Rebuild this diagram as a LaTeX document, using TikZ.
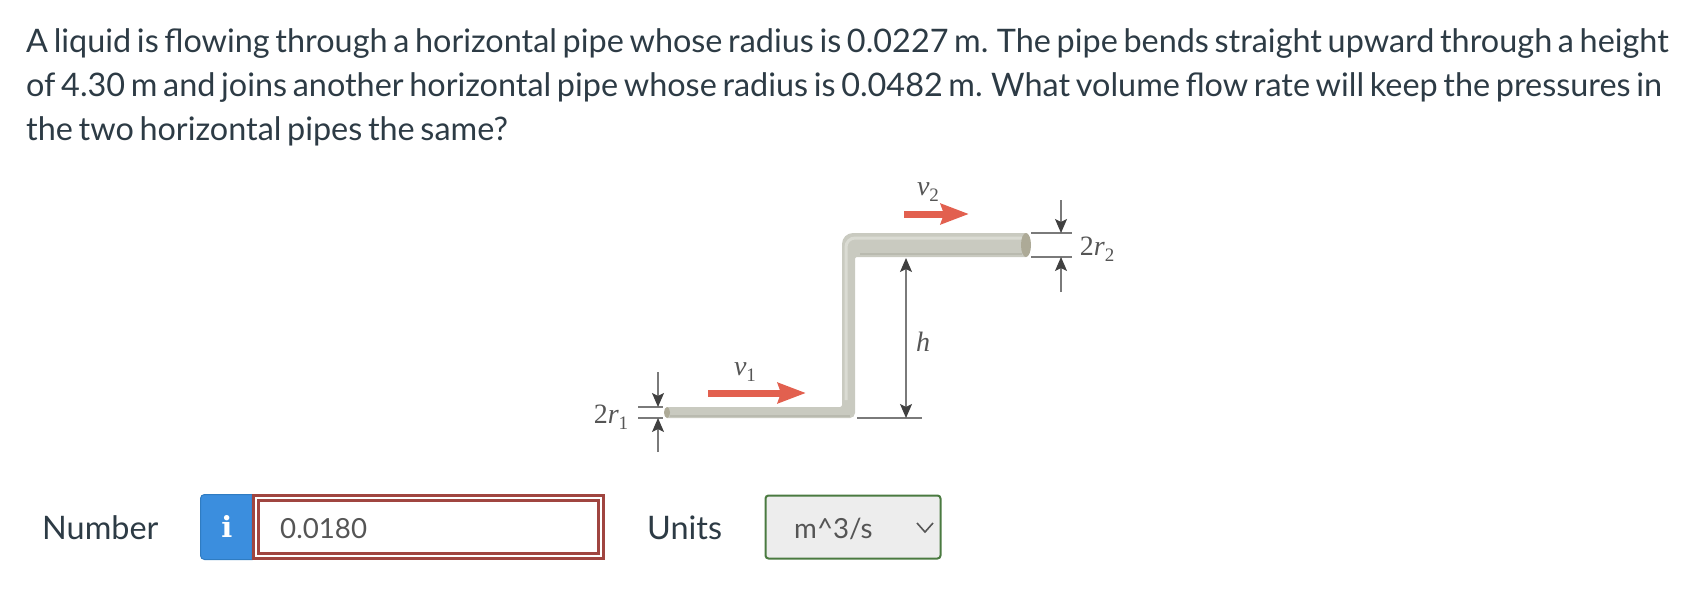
\documentclass[tikz,border=0pt]{standalone}
\usepackage{fontspec}
\usepackage{xcolor}
\setmainfont{Lato}[WordSpace=0.68]
\newfontfamily\labelfont{Liberation Serif}
\newfontfamily\iconfont{DejaVu Serif}
\usetikzlibrary{arrows.meta,positioning}
\definecolor{inktext}{HTML}{2D3B45}
\definecolor{fieldtext}{HTML}{555555}
\definecolor{infoblue}{HTML}{3B8EDE}
\definecolor{infoedge}{HTML}{2F7CC2}
\definecolor{errorred}{HTML}{A04540}
\definecolor{selectgreen}{HTML}{4A7A40}
\definecolor{selectfill}{HTML}{EDEDED}
\definecolor{pipefill}{HTML}{C9CAC0}
\definecolor{pipelight}{HTML}{DADBD3}
\definecolor{pipedark}{HTML}{B9BAAF}
\definecolor{pipeend}{HTML}{ADAA97}
\definecolor{flowred}{HTML}{E2604F}
\definecolor{dimgray}{HTML}{7A7A7A}
\definecolor{labelgray}{HTML}{555555}
\tikzstyle{qline} = [anchor=base west, inner sep=0pt, text=inktext, font=\fontsize{32.4}{36}\selectfont]
\tikzstyle{fieldlabel} = [anchor=base west, inner sep=0pt, text=fieldtext, font=\fontsize{27.7}{33}\selectfont]
\tikzstyle{pipelabel} = [inner sep=0pt, text=labelgray, font=\labelfont\fontsize{28}{30}\selectfont]
\tikzstyle{extline} = [draw=dimgray, line width=1.2pt]
\tikzstyle{dimarrow} = [draw=dimgray, line width=1.3pt, -{Stealth[length=14pt,width=12pt,inset=3pt,black!75]}]
\tikzstyle{dimboth} = [draw=dimgray, line width=1.3pt, {Stealth[length=14pt,width=12pt,inset=3pt,black!75]}-{Stealth[length=14pt,width=12pt,inset=3pt,black!75]}]
\tikzstyle{flowarrow} = [draw=flowred, line width=7pt, -{Stealth[length=28pt,width=20pt,inset=3pt]}]
\newcommand{\subbed}[2]{#1\raisebox{-6pt}{\fontsize{19}{21}\selectfont #2}}

\begin{document}
\begin{tikzpicture}[x=1pt, y=-1pt]
	\useasboundingbox (0,0) rectangle (1708,610);

	\node (line1) [qline] at (26,53) {A liquid is flowing through a horizontal pipe whose radius is 0.0227 m. The pipe bends straight upward through a height};
	\node (line2) [qline] at (26,96.5) {of 4.30 m and joins another horizontal pipe whose radius is 0.0482 m. What volume flow rate will keep the pressures in};
	\node (line3) [qline] at (26,140.5) {the two horizontal pipes the same?};

	% pipe
	\fill [pipefill] (667,407) [rounded corners=2pt] -- (842,407) [rounded corners=11pt] -- (842,233) [sharp corners] -- (1026,233) -- (1026,257) [rounded corners=2pt] -- (855,257) [rounded corners=5pt] -- (855,418) [sharp corners] -- (667,418) -- cycle;
	\draw [pipelight, line width=3pt, rounded corners=9pt] (1022,238) -- (846,238) -- (846,400);
	\draw [pipedark, line width=2pt] (860,254) -- (1022,254);
	\draw [pipedark, line width=1.5pt] (670,416) -- (850,416);
	\fill [pipeend] (667,412.5) ellipse [x radius=3, y radius=5.5];
	\fill [pipeend] (1026,245) ellipse [x radius=5, y radius=12];

	% flow arrows
	\coordinate (v1start) at (708,393);
	\coordinate (v1end) at (806,393);
	\coordinate (v2start) at (904,214);
	\coordinate (v2end) at (969,214);
	\draw [flowarrow] (v1start) -- (v1end);
	\draw [flowarrow] (v2start) -- (v2end);
	\node (v1) [pipelabel] at (745,372) {\subbed{\textit{v}}{1}};
	\node (v2) [pipelabel] at (928,192) {\subbed{\textit{v}}{2}};

	% height
	\coordinate (htop) at (906,258);
	\coordinate (hbot) at (906,418);
	\coordinate (hbase1) at (857,418);
	\coordinate (hbase2) at (922,418);
	\draw [extline] (hbase1) -- (hbase2);
	\draw [dimboth] (htop) -- (hbot);
	\node (h) [pipelabel] at (923,342) {\textit{h}};

	% radius marks
	\coordinate (r2top) at (1061,233);
	\coordinate (r2bot) at (1061,257);
	\coordinate (r2from) at (1061,200);
	\coordinate (r2to) at (1061,292);
	\coordinate (r2ext1) at (1031,233);
	\coordinate (r2ext2) at (1072,233);
	\coordinate (r2ext3) at (1031,257);
	\coordinate (r2ext4) at (1072,257);
	\draw [extline] (r2ext1) -- (r2ext2);
	\draw [extline] (r2ext3) -- (r2ext4);
	\draw [dimarrow] (r2from) -- (r2top);
	\draw [dimarrow] (r2to) -- (r2bot);
	\node (r2) [pipelabel] at (1097,249) {\subbed{2\textit{r}}{2}};

	\coordinate (r1top) at (658,407);
	\coordinate (r1bot) at (658,418);
	\coordinate (r1from) at (658,372);
	\coordinate (r1to) at (658,452);
	\coordinate (r1ext1) at (638,407);
	\coordinate (r1ext2) at (663,407);
	\coordinate (r1ext3) at (638,418);
	\coordinate (r1ext4) at (663,418);
	\draw [extline] (r1ext1) -- (r1ext2);
	\draw [extline] (r1ext3) -- (r1ext4);
	\draw [dimarrow] (r1from) -- (r1top);
	\draw [dimarrow] (r1to) -- (r1bot);
	\node (r1) [pipelabel] at (611,417) {\subbed{2\textit{r}}{1}};

	% answer row
	\node (number) [qline] at (42,539) {Number};
	\draw [draw=infoedge, fill=infoblue, line width=1pt] (252,494.5) [rounded corners=4pt] -- (200.5,494.5) -- (200.5,559.5) [sharp corners] -- (252,559.5) -- cycle;
	\node (info) [text=white, inner sep=0pt, font=\iconfont\bfseries\fontsize{29}{30}\selectfont] at (227,526) {i};
	\node (answerbox) [draw=errorred, double=white, line width=3pt, double distance=2pt, inner sep=0pt, minimum width=345pt, minimum height=58pt] at (428.5,527) {};
	\node (answer) [fieldlabel] at (280,538) {0.0180};
	\node (units) [qline] at (647,539) {Units};
	\node (unitbox) [draw=selectgreen, fill=selectfill, line width=2pt, rounded corners=3pt, inner sep=0pt, minimum width=175pt, minimum height=63pt] at (853,527) {};
	\node (unit) [fieldlabel] at (794,538) {m\^{}3/s};
	\coordinate (chevl) at (917,523);
	\coordinate (chevm) at (925,532);
	\coordinate (chevr) at (933,523);
	\draw [draw=fieldtext, line width=1.6pt] (chevl) -- (chevm) -- (chevr);
\end{tikzpicture}
\end{document}
